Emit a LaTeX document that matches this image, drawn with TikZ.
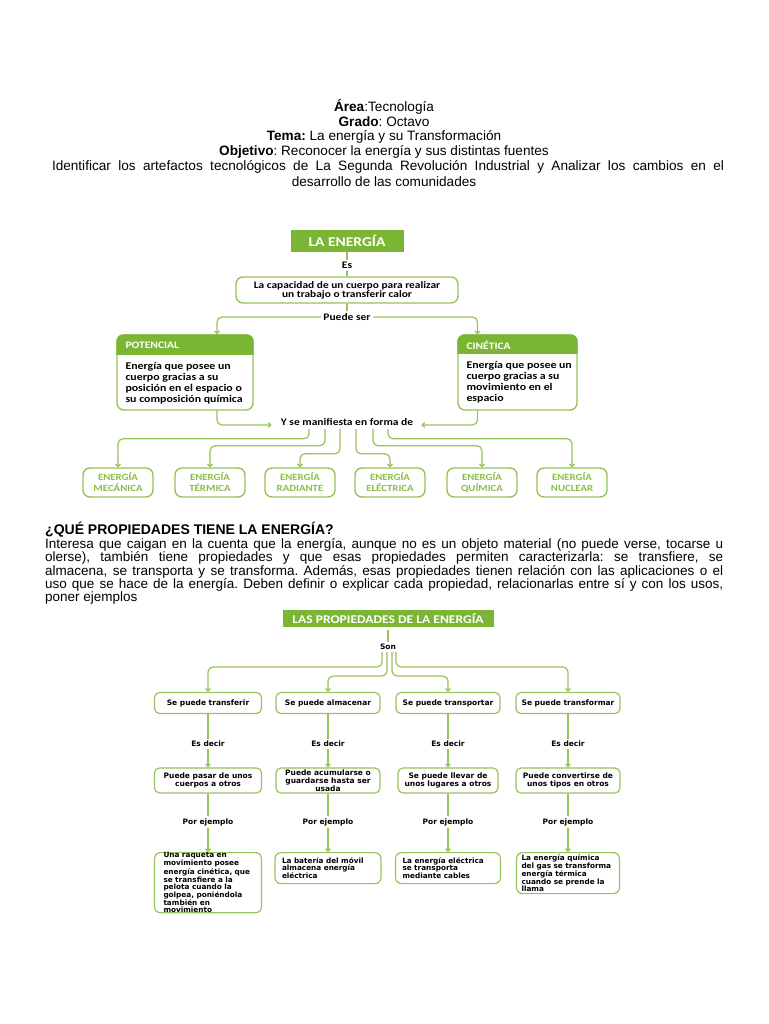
\documentclass[tikz,border=0pt]{standalone}
\usepackage{fontspec}
\setmainfont{Liberation Sans}
\newfontfamily\cfont{Carlito}[FakeStretch=1.15]
\newfontfamily\vfont{DejaVu Sans}
\usetikzlibrary{arrows.meta}
\definecolor{dgreen}{RGB}{122,182,52}
\definecolor{lgreen}{RGB}{150,196,90}
\definecolor{tgreen}{RGB}{138,190,70}
\frenchspacing
\tikzset{
 hdr/.style={font=\fontsize{13.6}{15}\selectfont, inner sep=0pt},
 paraline/.style={font=\fontsize{13.5}{15}\selectfont, inner sep=0pt, anchor=west},
 gbox/.style={fill=dgreen, text=white, inner sep=0pt, font=\cfont\bfseries\fontsize{13.5}{15}\selectfont},
 rbox/.style={draw=lgreen, line width=1.4pt, rounded corners=7pt, fill=white, inner sep=0pt},
 lab/.style={font=\cfont\bfseries\fontsize{10}{11}\selectfont, inner sep=2.5pt},
 conn/.style={draw=lgreen, line width=1.2pt, rounded corners=5pt},
 arr/.style={conn, -{Straight Barb[length=2.5pt,width=5pt]}},
 ebox/.style={rbox, minimum width=70pt, minimum height=29pt, align=center, text=tgreen, font=\cfont\bfseries\fontsize{9.4}{11}\selectfont},
 htext/.style={text=white, inner sep=0pt, anchor=west, font=\cfont\bfseries\fontsize{10}{11}\selectfont},
 btext/.style={inner sep=0pt, anchor=north west, align=left, font=\cfont\bfseries\fontsize{10.3}{11}\selectfont},
 pbox/.style={draw=lgreen, line width=1.2pt, rounded corners=5pt, fill=white, inner sep=0pt, align=center, font=\vfont\bfseries\fontsize{7.5}{7.8}\selectfont},
 xbox/.style={draw=lgreen, line width=1.2pt, rounded corners=6pt, fill=white, inner xsep=7pt, inner ysep=0pt, anchor=north, align=left, font=\vfont\bfseries\fontsize{7.3}{7.1}\selectfont},
 plab/.style={font=\vfont\bfseries\fontsize{7.5}{9}\selectfont, inner sep=2pt},
}
\begin{document}
\begin{tikzpicture}[x=1pt,y=-1pt]
\useasboundingbox (0,0) rectangle (768,1024);
\fill[white] (0,0) rectangle (768,1024);
% ---------- header ----------
\node[hdr] (area) at (384,107) {\textbf{Área}:Tecnología};
\node[hdr] (grado) at (384,122) {\textbf{Grado}: Octavo};
\node[hdr] (tema) at (384,137) {\textbf{Tema:} La energía y su Transformación};
\node[hdr] (obj) at (384,152) {\textbf{Objetivo}: Reconocer la energía y sus distintas fuentes};
\node[hdr] (id1) at (388,167) {\makebox[672pt][s]{Identificar los artefactos tecnológicos de La Segunda Revolución Industrial y Analizar los cambios en el}};
\node[hdr] (id2) at (384,182) {desarrollo de las comunidades};
% ---------- diagram 1 ----------
\node[gbox, minimum width=113pt, minimum height=22pt] (le) at (347,241) {LA ENERGÍA};
\node[lab] (es) at (347,265.5) {Es};
\node[rbox, minimum width=222pt, minimum height=26pt, align=center, font=\cfont\bfseries\fontsize{9.9}{8.8}\selectfont] (cap) at (347,290) {La capacidad de un cuerpo para realizar\\un trabajo o transferir calor};
\node[lab] (ps) at (347,317) {Puede ser};
\draw[conn] (le) -- (es);
\draw[conn] (es) -- (cap);
\draw[conn] (cap) -- (ps);
% potencial
\node[rbox, minimum width=136pt, minimum height=75pt] (pot) at (185,372.5) {};
\begin{scope}
\clip (pot.north west) rectangle ([yshift=-20pt]pot.north east);
\fill[dgreen, rounded corners=7pt] (pot.north west) rectangle (pot.south east);
\end{scope}
\node[htext] (potH) at ([xshift=9pt,yshift=-11pt]pot.north west) {POTENCIAL};
\node[btext] (potB) at ([xshift=9pt,yshift=-28pt]pot.north west) {Energía que posee un\\cuerpo gracias a su\\posición en el espacio o\\su composición química};
% cinetica
\node[rbox, minimum width=119pt, minimum height=75pt] (cin) at (517.5,372.5) {};
\begin{scope}
\clip (cin.north west) rectangle ([yshift=-19pt]cin.north east);
\fill[dgreen, rounded corners=7pt] (cin.north west) rectangle (cin.south east);
\end{scope}
\node[htext] (cinH) at ([xshift=9pt,yshift=-11pt]cin.north west) {CINÉTICA};
\node[btext] (cinB) at ([xshift=9pt,yshift=-27pt]cin.north west) {Energía que posee un\\cuerpo gracias a su\\movimiento en el\\espacio};
\draw[arr] (ps.west) -| ([xshift=32pt]pot.north);
\draw[arr] (ps.east) -| ([xshift=-40pt]cin.north);
\node[lab, inner sep=3pt] (ym) at (347,422) {Y se manifiesta en forma de};
\draw[arr] ([xshift=32pt]pot.south) |- ([xshift=-6pt,yshift=-3pt]ym.west);
\draw[arr] ([xshift=-40pt]cin.south) |- ([xshift=5pt,yshift=-3pt]ym.east);
% forms
\node[ebox] (e1) at (118,482.5) {ENERGÍA\\MECÁNICA};
\node[ebox] (e2) at (210,482.5) {ENERGÍA\\TÉRMICA};
\node[ebox] (e3) at (300,482.5) {ENERGÍA\\RADIANTE};
\node[ebox] (e4) at (390,482.5) {ENERGÍA\\ELÉCTRICA};
\node[ebox] (e5) at (482,482.5) {ENERGÍA\\QUÍMICA};
\node[ebox] (e6) at (572,482.5) {ENERGÍA\\NUCLEAR};
\draw[arr] ([xshift=-38pt]ym.south) -- ++(0,10) -| (e1.north);
\draw[arr] ([xshift=-22pt]ym.south) -- ++(0,17) -| (e2.north);
\draw[arr] ([xshift=-7pt]ym.south) -- ++(0,25) -| (e3.north);
\draw[arr] ([xshift=9pt]ym.south) -- ++(0,25) -| (e4.north);
\draw[arr] ([xshift=26pt]ym.south) -- ++(0,17) -| (e5.north);
\draw[arr] ([xshift=41pt]ym.south) -- ++(0,10) -| (e6.north);
% ---------- section text ----------
\node[paraline, font=\fontsize{14}{15}\selectfont] (q) at (45,530) {\textbf{¿QUÉ PROPIEDADES TIENE LA ENERGÍA?}};
\node[paraline] (l1) at (45,544.5) {\makebox[678pt][s]{Interesa que caigan en la cuenta que la energía, aunque no es un objeto material (no puede verse, tocarse u}};
\node[paraline] (l2) at (45,558) {\makebox[678pt][s]{olerse), también tiene propiedades y que esas propiedades permiten caracterizarla: se transfiere, se}};
\node[paraline] (l3) at (45,571.5) {\makebox[678pt][s]{almacena, se transporta y se transforma. Además, esas propiedades tienen relación con las aplicaciones o el}};
\node[paraline] (l4) at (45,585) {\makebox[678pt][s]{uso que se hace de la energía. Deben definir o explicar cada propiedad, relacionarlas entre sí y con los usos,}};
\node[paraline] (l5) at (45,598.5) {poner ejemplos};
% ---------- diagram 2 ----------
\node[gbox, font=\cfont\bfseries\fontsize{11.8}{13}\selectfont, minimum width=211pt, minimum height=17pt] (lp) at (388,618.5) {LAS PROPIEDADES DE LA ENERGÍA};
\node[plab] (son) at (388,647) {Son};
\draw[conn] ([yshift=-3pt]lp.south) -- (son);
\node[pbox, minimum width=107pt, minimum height=21pt] (p1) at (208,703) {Se puede transferir};
\node[pbox, minimum width=104pt, minimum height=21pt] (p2) at (328,703) {Se puede almacenar};
\node[pbox, minimum width=104pt, minimum height=21pt] (p3) at (448,703) {Se puede transportar};
\node[pbox, minimum width=104pt, minimum height=21pt] (p4) at (568,703) {Se puede transformar};
\draw[arr] ([xshift=-6pt]son.south) -- ++(0,15) -| (p1.north);
\draw[arr] ([xshift=-1pt]son.south) -- ++(0,24) -| (p2.north);
\draw[arr] ([xshift=4pt]son.south) -- ++(0,24) -| (p3.north);
\draw[arr] ([xshift=8pt]son.south) -- ++(0,15) -| (p4.north);
\foreach \i/\x in {1/208,2/328,3/448,4/568}{
  \node[plab] (ed\i) at (\x,744) {Es decir};
  \node[plab] (pe\i) at (\x,822) {Por ejemplo};
}
\node[pbox, minimum width=107pt, minimum height=25pt] (d1) at (208,780.5) {Puede pasar de unos\\cuerpos a otros};
\node[pbox, minimum width=104pt, minimum height=25pt] (d2) at (328,780.5) {Puede acumularse o\\guardarse hasta ser\\usada};
\node[pbox, minimum width=100pt, minimum height=25pt] (d3) at (448,780.5) {Se puede llevar de\\unos lugares a otros};
\node[pbox, minimum width=104pt, minimum height=25pt] (d4) at (568,780.5) {Puede convertirse  de\\unos tipos en otros};
\node[xbox, inner xsep=9pt, text width=89pt, minimum height=59pt, font=\vfont\bfseries\fontsize{7.3}{6.7}\selectfont] (x1) at (208,852) {Una raqueta en\\movimiento posee\\energía cinética, que\\se transfiere a la\\pelota cuando la\\golpea, poniéndola\\también en\\movimiento};
\node[xbox, text width=92pt, minimum height=31pt] (x2) at (328,852) {La batería del móvil\\almacena energía\\eléctrica};
\node[xbox, text width=91pt, minimum height=31pt] (x3) at (448,852) {La energía eléctrica\\se transporta\\mediante cables};
\node[xbox, inner xsep=5pt, text width=93pt, minimum height=41pt] (x4) at (568,852) {La energía química\\del gas se transforma\\energía térmica\\cuando se prende la\\llama};
\foreach \i in {1,2,3,4}{
  \draw[conn] (p\i) -- (ed\i);
  \draw[arr] (ed\i) -- (d\i);
  \draw[conn] (d\i) -- (pe\i);
  \draw[arr] (pe\i) -- (x\i);
}
\end{tikzpicture}
\end{document}
